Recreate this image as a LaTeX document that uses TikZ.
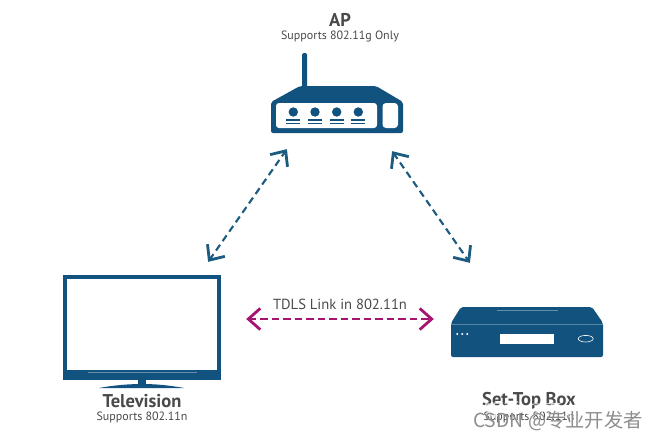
\documentclass[tikz,border=0pt]{standalone}
\usepackage{fontspec}
\setmainfont{PT Sans}
\newfontfamily\cjkfont{Noto Sans CJK SC}
\usetikzlibrary{arrows.meta}
\definecolor{devblue}{HTML}{11527F}
\definecolor{linkblue}{HTML}{1B5B7F}
\definecolor{linkmag}{HTML}{A5156F}
\definecolor{txtgrey}{HTML}{4A4A4D}
\definecolor{wm}{HTML}{8E8E8E}
\pgfdeclarearrow{
  name=Chevron,
  setup code={
    \pgfarrowssettipend{0pt}
    \pgfarrowssetlineend{-2.5pt}
    \pgfarrowssetvisualbackend{-2.5pt}
    \pgfarrowssetbackend{-14pt}
  },
  drawing code={
    \pgfsetdash{}{0pt}
    \pgfsetlinewidth{2.8pt}
    \pgfsetbuttcap
    \pgfsetmiterjoin
    \pgfpathmoveto{\pgfpoint{-14.3pt}{10.6pt}}
    \pgfpathlineto{\pgfpoint{-2.3pt}{0pt}}
    \pgfpathlineto{\pgfpoint{-14.3pt}{-10.6pt}}
    \pgfusepathqstroke
  },
}
\tikzset{
  device/.style={fill=devblue,draw=none},
  hole/.style={fill=white,draw=none},
  headtxt/.style={font=\bfseries\fontsize{18.5}{20}\selectfont,text=txtgrey,inner sep=0pt,anchor=center},
  subtxt/.style={font=\fontsize{12}{13}\selectfont,text=txtgrey,inner sep=0pt,anchor=center},
  linktxt/.style={font=\fontsize{14.6}{17}\selectfont,text=txtgrey,inner sep=0pt,anchor=center},
  wmtxt/.style={font=\cjkfont\fontsize{19.3}{21}\selectfont,inner sep=0pt,anchor=center},
  bluelink/.style={draw=linkblue,line width=2.1pt,dash pattern=on 7pt off 4.5pt,Chevron-Chevron},
  maglink/.style={draw=linkmag,line width=2.6pt,dash pattern=on 7.5pt off 4pt,Chevron-Chevron},
}
\begin{document}
\begin{tikzpicture}[x=1pt,y=-1pt]
\useasboundingbox (0,0) rectangle (660,440);
\fill[white] (0,0) rectangle (660,440);

% AP
\fill[device,rounded corners=1.5pt] (302,53) rectangle (307,88);
\fill[device,rounded corners=2pt] (300,86) -- (376,86) -- (403,102) -- (403,133) -- (271,133) -- (271,102) -- cycle;
\fill[hole,rounded corners=3pt] (276,103) rectangle (377,128);
\fill[hole,rounded corners=3.5pt] (382.5,103) rectangle (398,128);
\foreach \cx in {293.3,315,336.7,358.3}{
  \fill[device] (\cx,112) circle (4.7);
  \fill[device] (\cx-7,119.4) rectangle (\cx+7,120.6);
  \fill[device] (\cx-7,122.6) rectangle (\cx+7,123.8);
}

% Television
\fill[device] (62.7,275) rectangle (221,380);
\fill[hole] (66.7,279.3) rectangle (217.3,370);
\fill[white,opacity=.35] (88,371.5) rectangle (197,372.5);
\fill[device] (138,380) rectangle (146,385);
\fill[device] (99,388) .. controls (115,385) and (130,384) .. (142,384) .. controls (154,384) and (168,385) .. (184,388) -- cycle;

% Set-Top Box
\fill[device,rounded corners=2pt] (461,307) -- (592,307) -- (603,323) -- (603,357) -- (451,357) -- (451,323) -- cycle;
\draw[white,opacity=.3,line width=.5pt] (451,324) -- (603,324);
\draw[white,opacity=.35,line width=.5pt] (497,310) -- (558,310);
\fill[hole] (500,334) rectangle (554,344);
\draw[white,line width=.6pt] (585.7,338.7) ellipse (7.5 and 3.3);
\foreach \cx in {457.3,462.3,467.3}{\fill[white] (\cx,334) circle (1.1);}

% Anchors
\coordinate (apL) at (287,149);
\coordinate (apR) at (392,151);
\coordinate (tvT) at (208,262);
\coordinate (stbT) at (470,263);
\coordinate (tvR) at (246,319);
\coordinate (stbL) at (434,319);

% Connectors
\draw[bluelink] (tvT) -- (apL);
\draw[bluelink] (apR) -- (stbT);
\draw[maglink] (tvR) -- (stbL);

% Labels
\node[headtxt] (apname) at (340,20) {AP};
\node[subtxt] (apsub) at (340,36) {Supports 802.11g Only};
\node[headtxt] (tvname) at (142,401) {Television};
\node[subtxt] (tvsub) at (142,417) {Supports 802.11n};
\node[headtxt] (stbname) at (529,401) {Set-Top Box};
\node[subtxt] (stbsub) at (529,417) {Supports 802.11n};
\node[linktxt] (tdls) at (340,304) {TDLS Link in 802.11n};

% Watermarks
\node[wmtxt,text=white,opacity=.75] (wmA) at (562,411) {知乎 @专业开发者};
\node[wmtxt,text=wm] (wmB) at (558,421) {CSDN @专业开发者};
\end{tikzpicture}
\end{document}
